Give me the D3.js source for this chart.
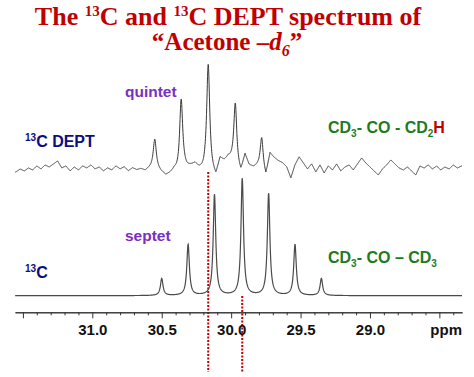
<!DOCTYPE html>
<html>
<head>
<meta charset="utf-8">
<script src="https://cdn.jsdelivr.net/npm/d3@7"></script>
<style>
  body { margin: 0; background: #fff; }
  svg { display: block; }
</style>
</head>
<body>
<div id="chart"></div>
<script>
(function () {

  // 13C septet of CD3-CO-CD3 (ppm, peak height)
  var septetPpm = [30.50, 30.31, 30.12, 29.92, 29.73, 29.54, 29.35]
  var septetHeight = [17, 51, 101, 117, 102, 51, 17]

  // DEPT quintet of CD3-CO-CD2H (ppm, peak height)
  var quintetPpm = [30.55, 30.36, 30.165, 29.97, 29.78]
  var quintetHeight = [29, 70, 104, 64, 30]

  // DEPT baseline wiggles, read every 0.03 ppm from 31.55 down
  var noiseStart = 31.55, noiseStep = 0.03
  var deptNoise = [
    -4, -1, -3, 0, -2, 2, -1, 3, 1, 4,
    7, 0, 2, -3, 1, -2, 2, 0, 3, -1,
    1, -3, 0, -2, 2, -1, 1, -3, 0, -2,
    -1, -3, -1, 0, -2, -5, -8, -6, -3, -5,
    0, -1, 1, 3, -2, -4, 0, -6, -10, 8,
    6, 9, 5, -2, -6, 12, 2, 0, 1, 0,
    -9, 14, 10, 7, 5, 1, -10, 3, 11, 5,
    -1, 4, -4, 3, -5, 2, -2, 4, -3, 1,
    3, -2, 4, 10, 5, 1, -3, -7, -1, 3,
    8, 4, 0, -2, 1, -3, -7, 2, 0, 3,
    -1, 2, -2, 1, -1, 3, 0, 2
  ]

  // axis ticks
  var majorTicks = [31.5, 31.0, 30.5, 30.0, 29.5, 29.0, 28.5]
  var tickLabels = ['', '31.0', '30.5', '30.0', '29.5', '29.0', '']

  var width = 474, height = 377

  var svg = d3.select('#chart').append('svg')
    .attr('width', width)
    .attr('height', height)

  svg.append('rect').attr('width', width).attr('height', height).attr('fill', '#fff')

  // x scale in ppm, high on the left
  var x = d3.scaleLinear()
    .domain([31.557, 28.337])
    .range([15, 462])

  // y scales, one unit = one pixel
  var yDept = d3.scaleLinear().domain([0, 120]).range([168, 48])
  var yC13 = d3.scaleLinear().domain([0, 120]).range([295.7, 175.7])

  var noise = d3.scaleLinear()
    .domain(deptNoise.map((d, i) => noiseStart - noiseStep * i))
    .range(deptNoise)
    .clamp(true)

  function lorentz(ppm, centers, heights, w) {
    var s = 0
    for (var i = 0; i < centers.length; i++) {
      var d = ppm - centers[i]
      s += heights[i] * w * w / (d * d + w * w)
    }
    return s
  }

  var grid = d3.range(x.domain()[1], x.domain()[0], 0.0015)

  var deptLine = d3.line()
    .x(d => x(d))
    .y(d => yDept(lorentz(d, quintetPpm, quintetHeight, 0.013) + noise(d)))

  var c13Line = d3.line()
    .x(d => x(d))
    .y(d => yC13(lorentz(d, septetPpm, septetHeight, 0.011)))

  // red dotted markers at the two centres
  svg.append('line')
    .attr('x1', x(quintetPpm[2])).attr('x2', x(quintetPpm[2]))
    .attr('y1', 172).attr('y2', 372)
    .attr('stroke', '#c00000').attr('stroke-width', 2)
    .attr('stroke-dasharray', '2,1.5')

  svg.append('line')
    .attr('x1', x(septetPpm[3])).attr('x2', x(septetPpm[3]))
    .attr('y1', 296).attr('y2', 372)
    .attr('stroke', '#c00000').attr('stroke-width', 2)
    .attr('stroke-dasharray', '2,1.5')

  svg.append('path')
    .datum(grid)
    .attr('d', deptLine)
    .attr('fill', 'none')
    .attr('stroke', '#3a3a3a')
    .attr('stroke-width', 1)

  svg.append('path')
    .datum(grid)
    .attr('d', c13Line)
    .attr('fill', 'none')
    .attr('stroke', '#4a4a4a')
    .attr('stroke-width', 1.2)

  // x axis: minor ticks then major ticks with labels
  var minorTicks = d3.range(284, 316).map(d => d / 10).filter(d => majorTicks.indexOf(d) < 0)

  var minorAxis = d3.axisBottom(x).tickValues(minorTicks).tickSize(3).tickSizeOuter(0).tickFormat('')
  var majorAxis = d3.axisBottom(x).tickValues(majorTicks).tickSize(6).tickSizeOuter(0)
    .tickFormat((d, i) => tickLabels[i])

  var axisY = 312.3
  svg.append('g')
    .attr('transform', 'translate(0,' + axisY + ')')
    .call(minorAxis)
    .call(g => g.selectAll('line,path').attr('stroke', '#333'))

  var ax = svg.append('g')
    .attr('transform', 'translate(0,' + axisY + ')')
    .call(majorAxis)
  ax.selectAll('line,path').attr('stroke', '#333')
  ax.selectAll('text')
    .attr('y', 23).attr('dy', 0)
    .attr('fill', '#111')
    .attr('font-family', 'Liberation Sans, Arial, sans-serif')
    .attr('font-weight', 'bold')
    .attr('font-size', 15)

  svg.append('text')
    .attr('x', 462).attr('y', 335)
    .attr('text-anchor', 'end')
    .attr('font-family', 'Liberation Sans, Arial, sans-serif')
    .attr('font-weight', 'bold').attr('font-size', 15)
    .attr('fill', '#111')
    .text('ppm')

  // title
  var serif = 'Liberation Serif, Times New Roman, serif'
  var t1 = svg.append('text')
    .attr('x', 228).attr('y', 25)
    .attr('text-anchor', 'middle')
    .attr('font-family', serif).attr('font-weight', 'bold').attr('font-size', 26)
    .attr('fill', '#c00000')
  t1.append('tspan').text('The ')
  t1.append('tspan').attr('font-size', 15).attr('dy', -9).text('13')
  t1.append('tspan').attr('dy', 9).text('C and ')
  t1.append('tspan').attr('font-size', 15).attr('dy', -9).text('13')
  t1.append('tspan').attr('dy', 9).text('C DEPT spectrum of')

  var t2 = svg.append('text')
    .attr('x', 227).attr('y', 50)
    .attr('text-anchor', 'middle')
    .attr('font-family', serif).attr('font-weight', 'bold').attr('font-size', 25)
    .attr('fill', '#c00000')
  t2.append('tspan').text('\u201CAcetone \u2013')
  t2.append('tspan').attr('font-style', 'italic').text('d')
  t2.append('tspan').attr('font-style', 'italic').attr('font-size', 16).attr('dy', 6).text('6')
  t2.append('tspan').attr('dy', -6).text('\u201D')

  // labels
  var sans = 'Liberation Sans, Arial, sans-serif'
  function label(xp, yp, size, color) {
    return svg.append('text')
      .attr('x', xp).attr('y', yp)
      .attr('font-family', sans).attr('font-weight', 'bold')
      .attr('font-size', size).attr('fill', color)
  }

  label(125, 97, 15.5, '#7b2fbe').text('quintet')
  label(125, 241, 15.5, '#7b2fbe').text('septet')

  var l1 = label(25, 146.7, 16, '#0d0d80')
  l1.append('tspan').attr('font-size', 10).attr('dy', -6).text('13')
  l1.append('tspan').attr('dy', 6).text('C DEPT')

  var l2 = label(25, 278.3, 16, '#0d0d80')
  l2.append('tspan').attr('font-size', 10).attr('dy', -6).text('13')
  l2.append('tspan').attr('dy', 6).text('C')

  var g1 = label(328, 133.3, 16, '#1e7b1e')
  g1.append('tspan').text('CD')
  g1.append('tspan').attr('font-size', 10).attr('dy', 4).text('3')
  g1.append('tspan').attr('dy', -4).text('- CO - CD')
  g1.append('tspan').attr('font-size', 10).attr('dy', 4).text('2')
  g1.append('tspan').attr('dy', -4).attr('fill', '#c00000').text('H')

  var g2 = label(328, 263.3, 16, '#1e7b1e')
  g2.append('tspan').text('CD')
  g2.append('tspan').attr('font-size', 10).attr('dy', 4).text('3')
  g2.append('tspan').attr('dy', -4).text('- CO \u2013 CD')
  g2.append('tspan').attr('font-size', 10).attr('dy', 4).text('3')

})();
</script>
</body>
</html>
